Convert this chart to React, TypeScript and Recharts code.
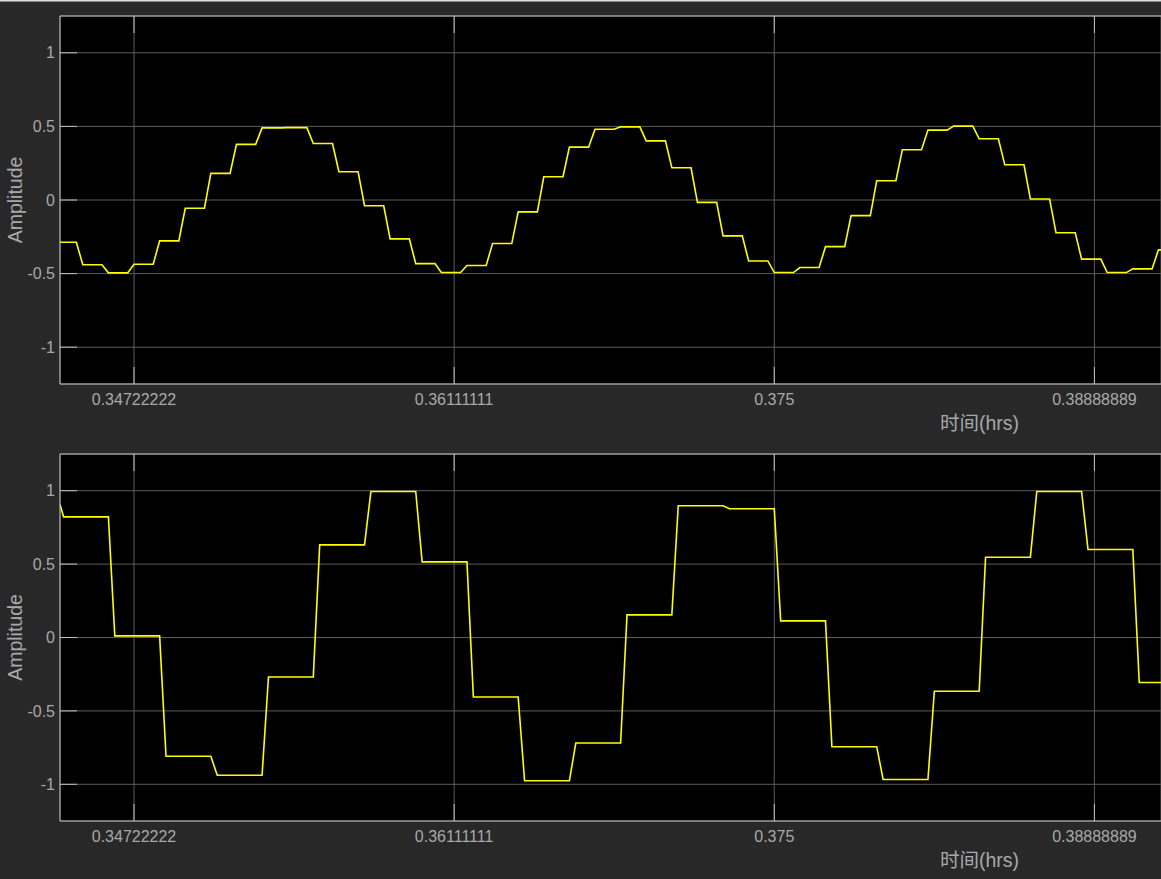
import { LineChart, Line, XAxis, YAxis, CartesianGrid, ReferenceLine } from "recharts"

// time axis is in seconds, labels are shown in hours
const xTickSeconds = [1250, 1300, 1350, 1400]
const xTickLabels = ["0.34722222", "0.36111111", "0.375", "0.38888889"]
const yTicks = [-1, -0.5, 0, 0.5, 1]
const yTickLabels = ["-1", "-0.5", "0", "0.5", "1"]

const X_MIN = 1238.44
const X_MAX = 1410.4

// top scope: time where each step is reached, and its level
const topTimes = [
  1238.44, 1242, 1246, 1250, 1254, 1258, 1262, 1266, 1270, 1274, 1278, 1282, 1286, 1290, 1294,
  1298, 1302, 1306, 1310, 1314, 1318, 1322, 1326, 1330, 1334, 1338, 1342, 1346, 1350, 1354,
  1358, 1362, 1366, 1370, 1374, 1378, 1382, 1386, 1390, 1394, 1398, 1402, 1406, 1410,
]
const topValues = [
  -0.287, -0.44, -0.495, -0.436, -0.278, -0.056, 0.181, 0.378, 0.49, 0.492, 0.384, 0.192, -0.039,
  -0.264, -0.432, -0.493, -0.445, -0.296, -0.081, 0.158, 0.359, 0.481, 0.497, 0.402, 0.219,
  -0.016, -0.244, -0.414, -0.493, -0.459, -0.317, -0.106, 0.131, 0.341, 0.475, 0.502, 0.416,
  0.239, 0.007, -0.222, -0.402, -0.493, -0.468, -0.339,
]

// bottom scope
const bottomTimes = [
  1238.44, 1239, 1247, 1255, 1263, 1271, 1279, 1287, 1295, 1303, 1311, 1319, 1327, 1335, 1343,
  1351, 1359, 1367, 1375, 1383, 1391, 1399, 1407,
]
const bottomValues = [
  0.906, 0.822, 0.011, -0.809, -0.938, -0.269, 0.631, 0.995, 0.515, -0.405, -0.976, -0.719, 0.154,
  0.897, 0.877, 0.113, -0.744, -0.967, -0.366, 0.547, 0.995, 0.599, -0.307,
]

const RAMP = 1 // seconds the scope takes to move between levels

function buildSteps(times: number[], values: number[]) {
  const pts: { t: number; v: number }[] = []
  times.forEach((t, i) => {
    pts.push({ t, v: values[i] })
    const holdEnd = i + 1 < times.length ? times[i + 1] - RAMP : X_MAX
    if (holdEnd > t) pts.push({ t: holdEnd, v: values[i] })
  })
  return pts
}

const topData = buildSteps(topTimes, topValues)
const bottomData = buildSteps(bottomTimes, bottomValues)

const FONT = "'Liberation Sans', Arial, 'Noto Sans CJK SC', sans-serif"
const TEXT = "#a8a8a8"
const BORDER = "#c0c0c0"
const GRID = "#5c5c5c"
const PLOT_LEFT = 60
const TICK_LEN = 17

const makeXTick = (plotTop: number, plotBottom: number) => (props: any) => {
  const { x, payload } = props
  const label = xTickLabels[xTickSeconds.indexOf(payload.value)]
  return (
    <g>
      <line x1={x} x2={x} y1={plotBottom} y2={plotBottom - TICK_LEN} stroke={BORDER} />
      <line x1={x} x2={x} y1={plotTop} y2={plotTop + TICK_LEN} stroke={BORDER} />
      <text x={x} y={plotBottom + 15.5} dy="0.35em" textAnchor="middle" fill={TEXT} fontSize={16} fontFamily={FONT}>
        {label}
      </text>
    </g>
  )
}

const YTick = (props: any) => {
  const { y, payload } = props
  const label = yTickLabels[yTicks.indexOf(payload.value)]
  return (
    <g>
      <line x1={PLOT_LEFT} x2={PLOT_LEFT + TICK_LEN} y1={y} y2={y} stroke={BORDER} />
      <text x={PLOT_LEFT - 5} y={y} dy="0.35em" textAnchor="end" fill={TEXT} fontSize={16} fontFamily={FONT}>
        {label}
      </text>
    </g>
  )
}

// axis titles: own prop names so recharts' injected x/y are ignored
function XTitle({ cy }: { cy: number }) {
  return (
    <text x={979.5} y={cy} dy="0.35em" textAnchor="middle" fill={TEXT} fontSize={19.5} fontFamily={FONT}>
      时间(hrs)
    </text>
  )
}

function YTitle({ cy }: { cy: number }) {
  return (
    <text
      x={15}
      y={cy}
      dy="0.35em"
      textAnchor="middle"
      transform={`rotate(-90, 15, ${cy})`}
      fill={TEXT}
      fontSize={19.5}
      fontFamily={FONT}
    >
      Amplitude
    </text>
  )
}

function Scope({ data, height, xAxisHeight }: { data: { t: number; v: number }[]; height: number; xAxisHeight: number }) {
  const plotTop = 16
  const plotBottom = height - xAxisHeight
  const midY = (plotTop + plotBottom) / 2
  return (
    <LineChart width={1161} height={height} data={data} margin={{ top: plotTop, right: 0, bottom: 0, left: 0 }}>
      <CartesianGrid stroke={GRID} fill="#000" />
      <XAxis
        dataKey="t"
        type="number"
        domain={[X_MIN, X_MAX]}
        allowDataOverflow
        ticks={xTickSeconds}
        height={xAxisHeight}
        axisLine={{ stroke: BORDER }}
        tickLine={false}
        tick={makeXTick(plotTop, plotBottom)}
        label={<XTitle cy={plotBottom + 39} />}
      />
      <YAxis
        type="number"
        domain={[-1.25, 1.25]}
        ticks={yTicks}
        width={PLOT_LEFT}
        axisLine={{ stroke: BORDER }}
        tickLine={false}
        tick={YTick}
        label={<YTitle cy={midY} />}
      />
      <ReferenceLine y={1.25} stroke={BORDER} />
      <Line type="linear" dataKey="v" stroke="#ffff00" strokeWidth={1.6} dot={false} isAnimationActive={false} />
    </LineChart>
  )
}

export default function App() {
  return (
    <div
      style={{
        position: "absolute",
        left: 0,
        top: 0,
        width: 1161,
        height: 879,
        background: "#282828",
        overflow: "hidden",
      }}
    >
      <div style={{ height: 1, background: "#dcdcdc" }} />
      <div style={{ height: 1, background: "#8a8a8a" }} />
      <div style={{ position: "absolute", left: 0, top: 0 }}>
        <Scope data={topData} height={438} xAxisHeight={54} />
      </div>
      <div style={{ position: "absolute", left: 0, top: 438 }}>
        <Scope data={bottomData} height={441} xAxisHeight={58} />
      </div>
    </div>
  )
}
